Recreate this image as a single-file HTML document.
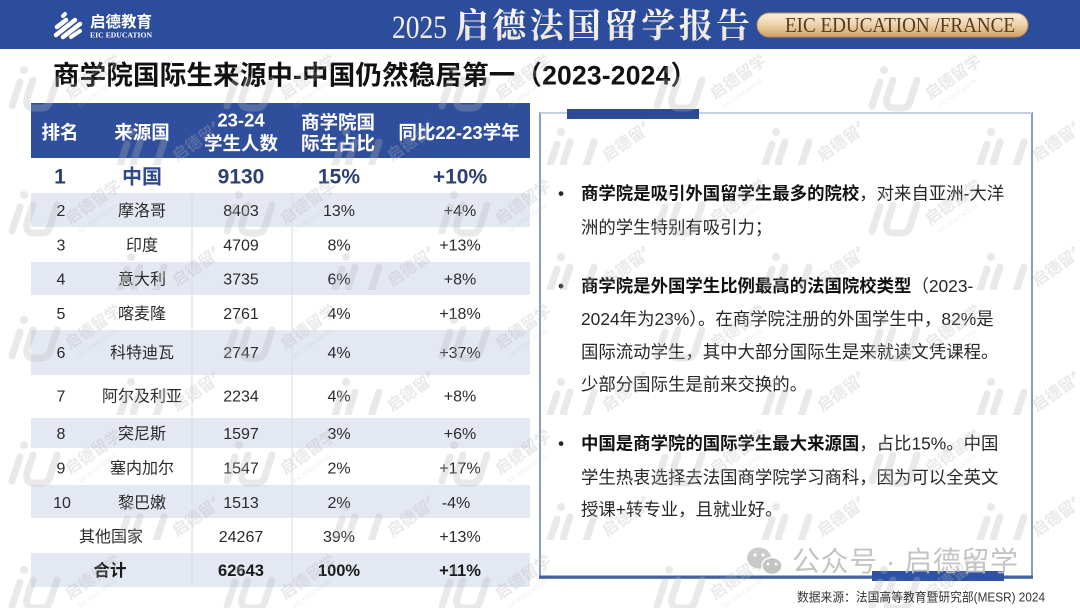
<!DOCTYPE html>
<html><head><meta charset="utf-8"><style>
html,body{margin:0;padding:0;background:#fff;width:1080px;height:608px;overflow:hidden}
svg{display:block}
</style></head><body>
<svg width="1080" height="608" viewBox="0 0 1080 608" xmlns="http://www.w3.org/2000/svg" font-family="'Liberation Sans','Noto Sans CJK SC',sans-serif">
<defs>
  <linearGradient id="pill" x1="0" y1="0" x2="0" y2="1">
    <stop offset="0" stop-color="#fbf1df"/>
    <stop offset="0.5" stop-color="#ecd2a8"/>
    <stop offset="1" stop-color="#cfa066"/>
  </linearGradient>
  <linearGradient id="ttl" x1="0" y1="0" x2="0" y2="1">
    <stop offset="0" stop-color="#ffffff"/>
    <stop offset="1" stop-color="#eadfd6"/>
  </linearGradient>
  <pattern id="wm" width="215" height="125" patternUnits="userSpaceOnUse" x="0" y="40">
    <g fill="none" stroke="#b5b5b5" stroke-width="7" stroke-linecap="round">
      <line x1="20" y1="42" x2="12" y2="66"/>
      <path d="M33 40 L27 58 Q25 68 34 68 L42 68 Q49 68 51 58 L57 40"/>
    </g>
    <circle cx="24" cy="30" r="4" fill="#b5b5b5"/>
    <text x="70" y="60" transform="rotate(-35 70 60)" font-size="16" font-weight="bold" fill="#b5b5b5">启德留学</text>
    <text x="80" y="68" transform="rotate(-35 80 68)" font-size="6" font-family="'Liberation Serif',serif" fill="#b5b5b5">EIC EDUCATION</text>
    <g transform="translate(107 62)">
      <g fill="none" stroke="#b5b5b5" stroke-width="7" stroke-linecap="round">
        <line x1="20" y1="42" x2="12" y2="66"/>
        <path d="M33 40 L27 58 Q25 68 34 68 L42 68 Q49 68 51 58 L57 40"/>
      </g>
      <circle cx="24" cy="30" r="4" fill="#b5b5b5"/>
      <text x="70" y="60" transform="rotate(-35 70 60)" font-size="16" font-weight="bold" fill="#b5b5b5">启德留学</text>
    </g>
  </pattern>
</defs>

<rect width="1080" height="608" fill="#ffffff"/>

<!-- Header bar -->
<rect x="0" y="0" width="1080" height="49" fill="#2c4c9c"/>
<!-- logo icon -->
<g fill="none" stroke="#ffffff" stroke-linecap="round">
  <line x1="63" y1="16" x2="65" y2="14" stroke-width="4"/>
  <line x1="57" y1="27" x2="66" y2="20" stroke-width="4.5"/>
  <line x1="56" y1="35" x2="75" y2="20" stroke-width="4.5"/>
  <line x1="63" y1="37" x2="80" y2="24" stroke-width="4.5"/>
  <line x1="71" y1="37" x2="80" y2="31" stroke-width="4"/>
</g>
<text x="90" y="27" font-size="15.5" font-weight="bold" fill="#ffffff" textLength="62" lengthAdjust="spacingAndGlyphs">启德教育</text>
<text x="90" y="37.5" font-size="7.5" font-weight="bold" fill="#ffffff" font-family="'Liberation Serif',serif" textLength="62" lengthAdjust="spacingAndGlyphs">EIC EDUCATION</text>
<!-- header title -->
<text x="392" y="38" font-size="33" fill="url(#ttl)" font-family="'Liberation Serif',serif" textLength="55" lengthAdjust="spacingAndGlyphs">2025</text>
<text x="455" y="37.5" font-size="34" font-weight="bold" fill="url(#ttl)" font-family="'Noto Serif CJK SC','Liberation Serif',serif" textLength="295" lengthAdjust="spacing">启德法国留学报告</text>
<!-- pill -->
<rect x="757" y="13" width="271" height="24" rx="12" fill="url(#pill)" stroke="#b98a55" stroke-width="1"/>
<text x="785" y="32" font-size="21" fill="#5b3a1c" font-family="'Liberation Serif',serif" textLength="230" lengthAdjust="spacingAndGlyphs">EIC EDUCATION /FRANCE</text>

<!-- Section title -->
<text x="53" y="84.5" font-size="26.5" font-weight="bold" fill="#111111" textLength="644" lengthAdjust="spacing">商学院国际生来源中-中国仍然稳居第一（2023-2024）</text>

<!-- Table -->
<rect x="31" y="103" width="499" height="55" fill="#2f4e9c"/>
<g fill="#e4e8f2">
  <rect x="31" y="193" width="499" height="34"/>
  <rect x="31" y="262" width="499" height="33"/>
  <rect x="31" y="330" width="499" height="45"/>
  <rect x="31" y="418" width="499" height="30"/>
  <rect x="31" y="485" width="499" height="33"/>
  <rect x="31" y="553" width="499" height="34"/>
</g>
<g stroke="#d6dbe7" stroke-width="1">
  <line x1="192" y1="193" x2="192" y2="587"/>
  <line x1="292" y1="193" x2="292" y2="587"/>
</g>

<g font-size="18.5" font-weight="bold" fill="#ffffff" text-anchor="middle">
  <text x="60" y="139">排名</text>
  <text x="142" y="139">来源国</text>
  <text x="241" y="126.5">23-24</text>
  <text x="241" y="150">学生人数</text>
  <text x="338" y="129">商学院国</text>
  <text x="338" y="150">际生占比</text>
  <text x="459" y="139">同比22-23学年</text>
</g>

<g font-weight="bold" fill="#2d3f73" text-anchor="middle">
  <text x="60" y="183.5" font-size="21">1</text>
  <text x="142" y="183.5" font-size="20" fill="#2f4a8c">中国</text>
  <text x="241" y="183.5" font-size="21">9130</text>
  <text x="339" y="183.5" font-size="21">15%</text>
  <text x="460" y="183.5" font-size="21">+10%</text>
</g>

<g font-size="16" fill="#2a2a2a" text-anchor="middle">
  <text x="61" y="216">2</text><text x="142" y="216">摩洛哥</text><text x="241" y="216">8403</text><text x="339" y="216">13%</text><text x="460" y="216">+4%</text>
  <text x="61" y="250.5">3</text><text x="142" y="250.5">印度</text><text x="241" y="250.5">4709</text><text x="339" y="250.5">8%</text><text x="460" y="250.5">+13%</text>
  <text x="61" y="284.5">4</text><text x="142" y="284.5">意大利</text><text x="241" y="284.5">3735</text><text x="339" y="284.5">6%</text><text x="460" y="284.5">+8%</text>
  <text x="61" y="319">5</text><text x="142" y="319">喀麦隆</text><text x="241" y="319">2761</text><text x="339" y="319">4%</text><text x="460" y="319">+18%</text>
  <text x="61" y="358">6</text><text x="142" y="358">科特迪瓦</text><text x="241" y="358">2747</text><text x="339" y="358">4%</text><text x="460" y="358">+37%</text>
  <text x="61" y="401.5">7</text><text x="142" y="401.5">阿尔及利亚</text><text x="241" y="401.5">2234</text><text x="339" y="401.5">4%</text><text x="460" y="401.5">+8%</text>
  <text x="61" y="439">8</text><text x="142" y="439">突尼斯</text><text x="241" y="439">1597</text><text x="339" y="439">3%</text><text x="460" y="439">+6%</text>
  <text x="61" y="473.5">9</text><text x="142" y="473.5">塞内加尔</text><text x="241" y="473.5">1547</text><text x="339" y="473.5">2%</text><text x="460" y="473.5">+17%</text>
  <text x="62" y="508">10</text><text x="142" y="508">黎巴嫩</text><text x="241" y="508">1513</text><text x="339" y="508">2%</text><text x="456" y="508">-4%</text>
  <text x="111" y="542">其他国家</text><text x="241" y="542">24267</text><text x="339" y="542">39%</text><text x="460" y="542">+13%</text>
</g>
<g font-size="16.5" font-weight="bold" fill="#1a1a1a" text-anchor="middle">
  <text x="110" y="576">合计</text><text x="241" y="576">62643</text><text x="339" y="576">100%</text><text x="460" y="576">+11%</text>
</g>

<!-- Right box -->
<rect x="540" y="113" width="492" height="465" fill="#ffffff" stroke="#8c9cb9" stroke-width="2"/>
<line x1="540" y1="113" x2="1032" y2="113" stroke="#c6cfdd" stroke-width="2"/>
<line x1="539" y1="577" x2="1033" y2="577" stroke="#4262a2" stroke-width="3"/>
<rect x="567" y="109" width="132" height="10" fill="#2c4a93"/>
<rect x="872" y="571" width="132" height="10" fill="#2f52a4"/>

<g font-size="17.4" fill="#262626">
  <text x="558" y="199.5">•</text>
  <text x="581" y="199.5"><tspan font-weight="bold" fill="#111">商学院是吸引外国留学生最多的院校</tspan>，对来自亚洲-大洋</text>
  <text x="581" y="233.5">洲的学生特别有吸引力；</text>

  <text x="558" y="292">•</text>
  <text x="581" y="292"><tspan font-weight="bold" fill="#111">商学院是外国学生比例最高的法国院校类型</tspan>（2023-</text>
  <text x="581" y="325">2024年为23%）。在商学院注册的外国学生中，82%是</text>
  <text x="581" y="358">国际流动学生，其中大部分国际生是来就读文凭课程。</text>
  <text x="581" y="390.5">少部分国际生是前来交换的。</text>

  <text x="558" y="449.5">•</text>
  <text x="581" y="449.5"><tspan font-weight="bold" fill="#111">中国是商学院的国际学生最大来源国</tspan>，占比15%。中国</text>
  <text x="581" y="483.5">学生热衷选择去法国商学院学习商科，因为可以全英文</text>
  <text x="581" y="515.5">授课+转专业，且就业好。</text>
</g>

<!-- background watermark overlay -->
<rect x="0" y="49" width="1080" height="559" fill="url(#wm)" opacity="0.3"/>

<!-- WeChat watermark -->
<g opacity="0.9">
  <ellipse cx="759" cy="558" rx="12" ry="10.5" fill="#c6c6c6"/>
  <ellipse cx="772" cy="566" rx="10" ry="8.5" fill="#bdbdbd" stroke="#ffffff" stroke-width="1.5"/>
  <circle cx="755" cy="555" r="1.6" fill="#fff"/><circle cx="763" cy="555" r="1.6" fill="#fff"/>
  <circle cx="768" cy="564" r="1.4" fill="#fff"/><circle cx="776" cy="564" r="1.4" fill="#fff"/>
  <text x="792" y="571" font-size="28" fill="#bebebe" textLength="226" lengthAdjust="spacing">公众号 · 启德留学</text>
</g>

<!-- Source -->
<text x="797" y="601.5" font-size="12.5" fill="#333333" textLength="248" lengthAdjust="spacingAndGlyphs">数据来源：法国高等教育暨研究部(MESR) 2024</text>
</svg>
</body></html>
